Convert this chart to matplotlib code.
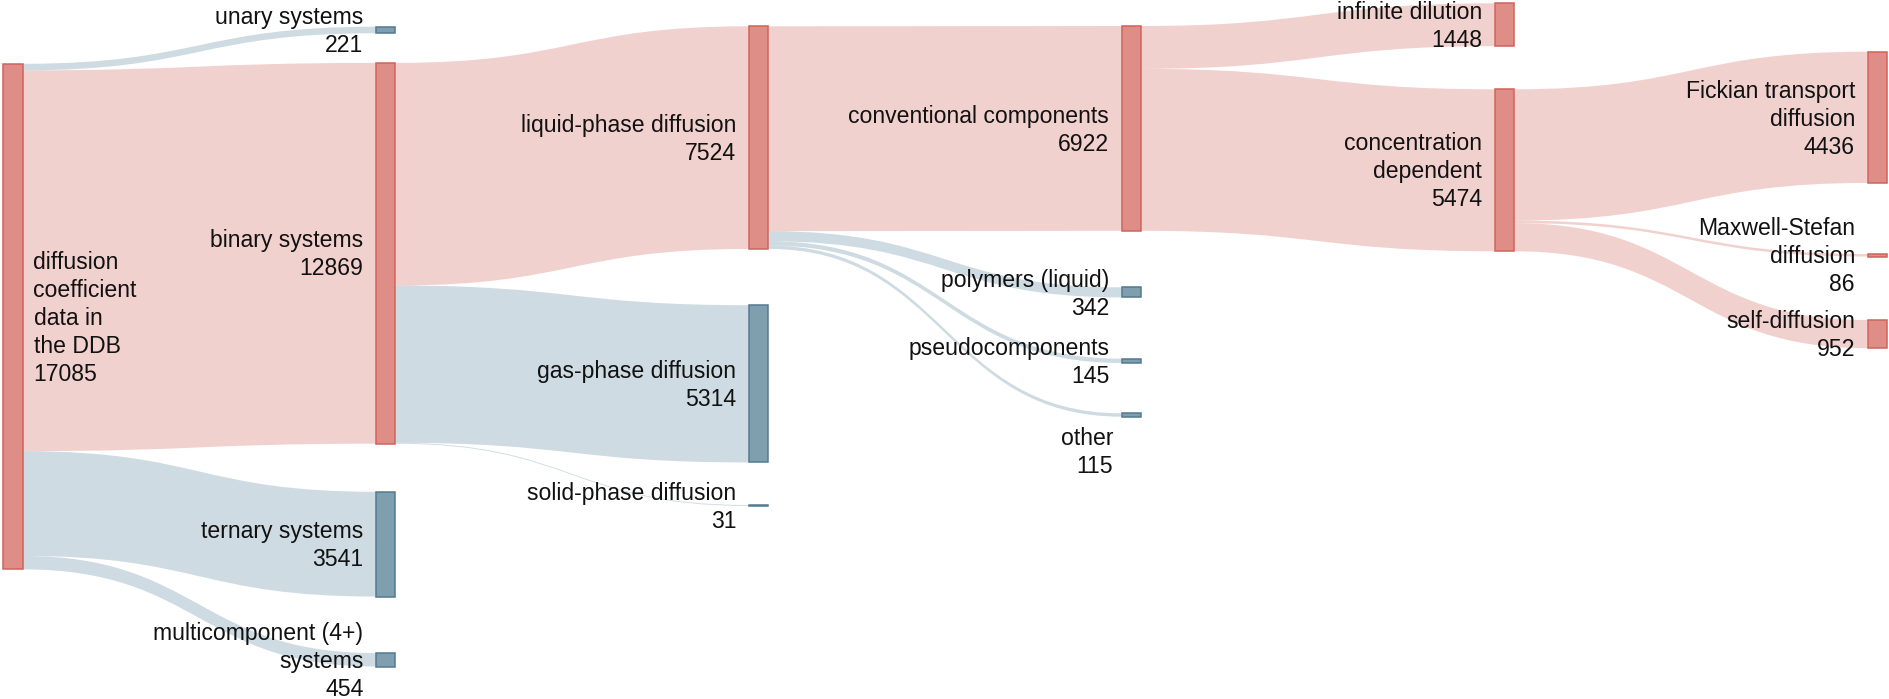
import matplotlib
matplotlib.use("Agg")
import matplotlib.pyplot as plt
from matplotlib.path import Path
from matplotlib.patches import PathPatch, Rectangle

# ---------------- data ----------------
node_labels = [
    "diffusion\ncoefficient\ndata in\nthe DDB",   # 0
    "unary systems",                              # 1
    "binary systems",                             # 2
    "ternary systems",                            # 3
    "multicomponent (4+)\nsystems",               # 4
    "liquid-phase diffusion",                     # 5
    "gas-phase diffusion",                        # 6
    "solid-phase diffusion",                      # 7
    "conventional components",                    # 8
    "polymers (liquid)",                          # 9
    "pseudocomponents",                           # 10
    "other",                                      # 11
    "infinite dilution",                          # 12
    "concentration\ndependent",                   # 13
    "Fickian transport\ndiffusion",               # 14
    "Maxwell-Stefan\ndiffusion",                  # 15
    "self-diffusion",                             # 16
]
node_group = ["r", "b", "r", "b", "b", "r", "b", "b", "r", "b", "b", "b",
              "r", "r", "r", "r", "r"]

link_source = [0, 0, 0, 0, 2, 2, 2, 5, 5, 5, 5, 8, 8, 13, 13, 13]
link_target = [1, 2, 3, 4, 5, 6, 7, 8, 9, 10, 11, 12, 13, 14, 15, 16]
link_value = [221, 12869, 3541, 454, 7524, 5314, 31, 6922, 342, 145, 115,
              1448, 5474, 4436, 86, 952]

# ---------------- layout (pixels) ----------------
node_column = [0, 1, 1, 1, 1, 2, 2, 2, 3, 3, 3, 3, 4, 4, 5, 5, 5]
node_top = [63.8, 26.7, 62.9, 491.8, 653.1, 26.3, 305.2, 505.0, 26.0,
            287.3, 358.7, 413.3, 3.3, 89.3, 51.7, 254.0, 320.0]
label_offset = {11: (4, 36)}
W, H = 1890, 699
left_x, right_x, node_w = 3.0, 1887.0, 19.5
n_cols = 6
px_per_unit = 0.02959
line_gap = 28.0
font_px = 23

fill = {"r": "#de8e87", "b": "#809fae"}
edge = {"r": "#d0625b", "b": "#527a90"}
link_rgba = {"r": (0.87, 0.55, 0.52, 0.40), "b": (0.50, 0.63, 0.70, 0.38)}

plt.rcParams["font.family"] = ["Liberation Sans", "DejaVu Sans"]

fig = plt.figure(figsize=(W / 100, H / 100), dpi=100)
ax = fig.add_axes([0, 0, 1, 1])
ax.set_xlim(0, W)
ax.set_ylim(H, 0)
ax.axis("off")

n = len(node_labels)
in_sum = [0] * n
out_sum = [0] * n
for s, t, v in zip(link_source, link_target, link_value):
    out_sum[s] += v
    in_sum[t] += v
node_value = [max(a, b) for a, b in zip(in_sum, out_sum)]
col_step = (right_x - node_w - left_x) / (n_cols - 1)
node_x = [left_x + c * col_step for c in node_column]
node_h = [v * px_per_unit for v in node_value]

# link ordering
out_off = list(node_top)
in_off = list(node_top)
order = sorted(range(len(link_value)),
               key=lambda i: (link_source[i], node_top[link_target[i]]))
src_y = {}
for i in order:
    s = link_source[i]
    src_y[i] = out_off[s]
    out_off[s] += link_value[i] * px_per_unit
order_t = sorted(range(len(link_value)),
                 key=lambda i: (link_target[i], node_top[link_source[i]]))
tgt_y = {}
for i in order_t:
    t = link_target[i]
    tgt_y[i] = in_off[t]
    in_off[t] += link_value[i] * px_per_unit

for i in range(len(link_value)):
    s, t = link_source[i], link_target[i]
    h = link_value[i] * px_per_unit
    x0 = node_x[s] + node_w
    x1 = node_x[t]
    xm = (x0 + x1) / 2
    y0, y1 = src_y[i], tgt_y[i]
    verts = [(x0, y0), (xm, y0), (xm, y1), (x1, y1),
             (x1, y1 + h), (xm, y1 + h), (xm, y0 + h), (x0, y0 + h), (x0, y0)]
    codes = [Path.MOVETO, Path.CURVE4, Path.CURVE4, Path.CURVE4,
             Path.LINETO, Path.CURVE4, Path.CURVE4, Path.CURVE4, Path.CLOSEPOLY]
    ax.add_patch(PathPatch(Path(verts, codes), facecolor=link_rgba[node_group[t]],
                           edgecolor="none", zorder=1))

for k in range(n):
    g = node_group[k]
    ax.add_patch(Rectangle((node_x[k], node_top[k]), node_w, node_h[k],
                           facecolor=fill[g], edgecolor=edge[g], linewidth=1.1,
                           zorder=3))

fs = font_px * 72 / 100
for k in range(n):
    lines = node_labels[k].split("\n") + [str(node_value[k])]
    cy = node_top[k] + node_h[k] / 2
    dx, dy = label_offset.get(k, (0, 0))
    if node_column[k] == 0:
        tx = node_x[k] + node_w + 11 + dx
        ha = "left"
    else:
        tx = node_x[k] - 12.5 + dx
        ha = "right"
    m = len(lines)
    for j, ln in enumerate(lines):
        yc = cy + dy + (j - (m - 1) / 2) * line_gap
        ax.text(tx, yc + 8.2, ln, ha=ha, va="baseline", fontsize=fs,
                color="#111111", zorder=5)

fig.savefig("out.png", dpi=100)
